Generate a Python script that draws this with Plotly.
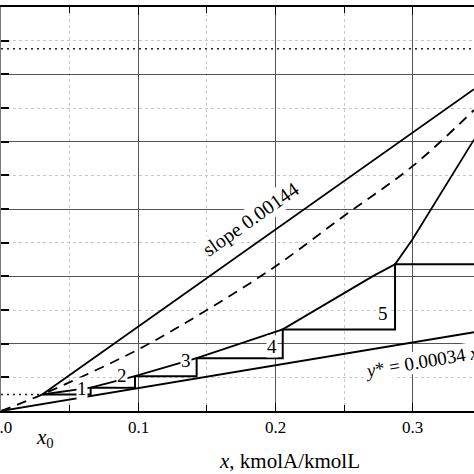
import plotly.graph_objects as go

# ---- data ----
x_max = 0.3445
# equilibrium line y* = 0.00034 x
eq_x = [0.0, 0.3445]
eq_y = [0.0, 0.000117]
# line with slope 0.00144 from the pinch point
sl_x = [0.030, 0.3445]
sl_y = [0.0000245, 0.000478]
# dashed curve
da_x = [0.0, 0.030, 0.10, 0.15, 0.20, 0.25, 0.30, 0.3445]
da_y = [0.0, 0.0000245, 0.0000915, 0.000150, 0.000215, 0.000290, 0.000364, 0.000447]
# operating curve (stage corners), kink at stage 5, then steep part
op_x = [0.030, 0.0653, 0.0976, 0.1425, 0.2052, 0.2712, 0.2870, 0.2994, 0.3445]
op_y = [0.0000245, 0.0000346, 0.0000517, 0.0000784, 0.0001212, 0.0002007, 0.0002178, 0.000254, 0.000403]
# stage corner points (on the operating curve)
st_x = [0.030, 0.0653, 0.0976, 0.1425, 0.2052, 0.2870]
st_y = [0.0000245, 0.0000346, 0.0000517, 0.0000784, 0.0001212, 0.0002178]
stage_labels = ["1", "2", "3", "4", "5"]
stage_lab_x = [0.059, 0.0881, 0.1344, 0.1974, 0.2779]
stage_lab_y = [0.0000327, 0.0000527, 0.000075, 0.0000958, 0.0001455]
# dotted levels
y_top = 0.000538
x_ticks = [0.0, 0.1, 0.2, 0.3]
x_tick_text = ["0.0", "0.1", "0.2", "0.3"]

# staircase path built from stage corners
stair_x, stair_y = [st_x[0]], [st_y[0]]
for i in range(1, len(st_x)):
    stair_x += [st_x[i], st_x[i]]
    stair_y += [st_y[i - 1], st_y[i]]
stair_x.append(x_max)
stair_y.append(st_y[-1])

FONT = "Liberation Serif"
# paper-y of the plot: 0 at px 411, 1 at px 7
def py(px):
    return (411 - px) / 404.0

fig = go.Figure()

blk = dict(color="black", width=1.8)
fig.add_trace(go.Scatter(x=[0, x_max], y=[y_top, y_top], mode="lines",
                         line=dict(color="#222", width=1.6, dash="2px,4px")))
fig.add_trace(go.Scatter(x=[0, st_x[0]], y=[st_y[0], st_y[0]], mode="lines",
                         line=dict(color="#222", width=1.6, dash="2px,4px")))
fig.add_trace(go.Scatter(x=eq_x, y=eq_y, mode="lines", line=blk))
fig.add_trace(go.Scatter(x=sl_x, y=sl_y, mode="lines", line=blk))
fig.add_trace(go.Scatter(x=da_x, y=da_y, mode="lines", line_shape="spline",
                         line=dict(color="black", width=1.8, dash="10px,7px")))
fig.add_trace(go.Scatter(x=op_x, y=op_y, mode="lines", line=blk))
fig.add_trace(go.Scatter(x=stair_x, y=stair_y, mode="lines", line=dict(color="black", width=2)))

C = dict(xanchor="center", yanchor="middle", showarrow=False)
ann = []
for t, ax_, ay_ in zip(stage_labels, stage_lab_x, stage_lab_y):
    ann.append(dict(x=ax_, y=ay_, xref="x", yref="y", text=t, **C,
                    font=dict(family=FONT, size=19, color="black"),
                    bgcolor="white", borderpad=0))
ann.append(dict(x=0.1821, y=0.0002837, xref="x", yref="y", text="slope 0.00144",
                textangle=-35.2, bgcolor="white", borderpad=0, **C,
                font=dict(family=FONT, size=20, color="black")))
ann.append(dict(x=0.3068, y=0.000074, xref="x", yref="y",
                text="<i>y</i>* = 0.00034 <i>x</i>",
                textangle=-9.5, bgcolor="white", borderpad=0, **C,
                font=dict(family=FONT, size=19, color="black")))
ann.append(dict(x=0.032, y=py(438), xref="x", yref="paper",
                text="<i>x</i><sub>0</sub>", **C,
                font=dict(family=FONT, size=21, color="black")))
ann.append(dict(x=0.2098, y=py(461), xref="x", yref="paper",
                text="<i>x</i>, kmolA/kmolL", **C,
                font=dict(family=FONT, size=21, color="black")))
for v, t in zip(x_ticks, x_tick_text):
    ann.append(dict(x=v, y=py(427), xref="x", yref="paper", text=t, **C,
                    font=dict(family=FONT, size=17, color="black")))

fig.update_layout(
    width=474, height=474, autosize=False,
    margin=dict(l=1, r=0, t=7, b=63),
    plot_bgcolor="white", paper_bgcolor="white",
    showlegend=False,
    annotations=ann,
    font=dict(family=FONT, size=16, color="black"),
)
fig.update_xaxes(
    range=[0, x_max], tickmode="array", tickvals=x_ticks, showticklabels=False,
    ticks="inside", ticklen=8, tickcolor="black", tickwidth=1.2,
    showline=True, linecolor="black", linewidth=1.5, mirror="allticks",
    showgrid=True, gridcolor="#555", gridwidth=1, zeroline=False,
    minor=dict(dtick=0.05, tick0=0, showgrid=True, gridcolor="#c8c8c8", griddash="dot",
               ticks="inside", ticklen=6, tickcolor="black", tickwidth=1.2),
)
fig.update_yaxes(
    range=[0, 0.0006], dtick=0.0001, tick0=0, showticklabels=False,
    ticks="inside", ticklen=8, tickcolor="black", tickwidth=1.5,
    showline=True, linecolor="#777", linewidth=2, mirror=False,
    showgrid=True, gridcolor="#555", gridwidth=1, zeroline=False,
    minor=dict(dtick=0.00005, tick0=0, showgrid=True, gridcolor="#c8c8c8", griddash="dot",
               ticks="inside", ticklen=8, tickcolor="black", tickwidth=1.5),
)

fig.write_html("out.html", post_script="document.body.style.margin='0';")
